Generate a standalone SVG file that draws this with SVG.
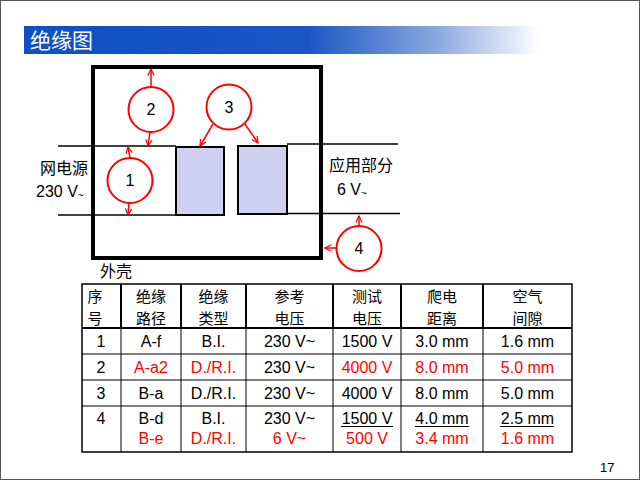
<svg xmlns="http://www.w3.org/2000/svg" width="640" height="480" viewBox="0 0 640 480">
<defs>
<linearGradient id="tg" x1="0" y1="0" x2="1" y2="0">
<stop offset="0" stop-color="#0e4fc3"/>
<stop offset="0.55" stop-color="#1a56c6"/>
<stop offset="0.8" stop-color="#8aa8e0"/>
<stop offset="1" stop-color="#ffffff"/>
</linearGradient>
<marker id="ah" viewBox="0 0 10 10" refX="9" refY="5" markerWidth="8" markerHeight="8" orient="auto" markerUnits="userSpaceOnUse">
<path d="M1,1 L9,5 L1,9" fill="none" stroke="#ff0000" stroke-width="1.5"/>
</marker>
<style>
.t{font-family:"Liberation Sans","Noto Sans CJK SC",sans-serif;font-size:16px;fill:#000;text-anchor:middle}
.c{font-family:"Noto Sans CJK SC","Liberation Sans",sans-serif;font-size:16px;fill:#000}
.h{font-family:"Noto Sans CJK SC","Liberation Sans",sans-serif;font-size:15px;fill:#000;text-anchor:middle}
.r{fill:#ff0000}
.lab{font-family:"Liberation Sans","Noto Sans CJK SC",sans-serif;font-size:16px;fill:#000}
.circ{fill:#fff;stroke:#ff0000;stroke-width:2}
.arr{stroke:#ff0000;stroke-width:1.5;fill:none;marker-end:url(#ah)}
.ln{stroke:#000;stroke-width:1.3}
.blk{fill:#d0d0f2;stroke:#000;stroke-width:2}
.grid{stroke:#000;stroke-width:1}
.gridb{stroke:#000;stroke-width:2}
.ul{stroke:#000;stroke-width:1}
</style>
</defs>
<rect x="0" y="0" width="640" height="480" fill="#fff"/>
<rect x="0.5" y="0.5" width="639" height="479" fill="none" stroke="#555" stroke-width="1"/>

<g id="title">
<rect x="24" y="26" width="516" height="28" fill="url(#tg)"/>
<rect x="24" y="52" width="516" height="2" fill="url(#tg)" opacity="0.6"/>
<text x="30" y="48" font-family="Noto Sans CJK SC,sans-serif" font-size="21" fill="#fff">绝缘图</text>
</g>

<g id="lines">
<line class="ln" x1="58" y1="146" x2="176" y2="146"/>
<line class="ln" x1="58" y1="215" x2="176" y2="215"/>
<line class="ln" x1="287" y1="144" x2="398" y2="144"/>
<line class="ln" x1="287" y1="213.5" x2="400" y2="213.5"/>
</g>

<g id="enclosure">
<rect x="93" y="67" width="228" height="191" fill="none" stroke="#000" stroke-width="4"/>
</g>
<g id="block1"><rect class="blk" x="176" y="147" width="48" height="68"/></g>
<g id="block2"><rect class="blk" x="238" y="146" width="49" height="68"/></g>

<g id="labels">
<text class="c" x="40" y="174" font-size="15">网电源</text>
<text class="lab" x="36" y="197">230 V<tspan font-size="10" dy="2">~</tspan></text>
<text class="c" x="329" y="171" font-size="15">应用部分</text>
<text class="lab" x="337" y="195">6 V<tspan font-size="10" dy="2">~</tspan></text>
<text class="c" x="100" y="277" font-size="15">外壳</text>
</g>

<g id="connectors">
<line class="arr" x1="151" y1="87" x2="151" y2="69"/>
<line class="arr" x1="150" y1="132" x2="148" y2="146"/>
<line class="arr" x1="130" y1="158" x2="128" y2="147"/>
<line class="arr" x1="129" y1="203" x2="128" y2="215"/>
<line class="arr" x1="213" y1="124" x2="200" y2="146"/>
<line class="arr" x1="245" y1="124" x2="258" y2="143"/>
<line class="arr" x1="337" y1="248" x2="325" y2="248"/>
<line class="arr" x1="359" y1="226" x2="359" y2="216"/>
</g>

<g id="c2"><circle class="circ" cx="151" cy="109.5" r="22.5"/><text class="t" x="151" y="115">2</text></g>
<g id="c3"><circle class="circ" cx="229" cy="107" r="22.5"/><text class="t" x="229" y="112.5">3</text></g>
<g id="c1"><circle class="circ" cx="130" cy="180.5" r="22.5"/><text class="t" x="130" y="186">1</text></g>
<g id="c4"><circle class="circ" cx="359" cy="248.5" r="22.5"/><text class="t" x="359" y="254">4</text></g>

<g id="table">
<rect x="82" y="284" width="490" height="168" fill="none" stroke="#000" stroke-width="1.5"/>
<line class="gridb" x1="82" y1="328" x2="572" y2="328"/>
<line class="grid" x1="82" y1="354" x2="572" y2="354"/>
<line class="grid" x1="82" y1="380" x2="572" y2="380"/>
<line class="grid" x1="82" y1="406" x2="572" y2="406"/>
<line class="gridb" x1="121" y1="284" x2="121" y2="328"/>
<line class="gridb" x1="181" y1="284" x2="181" y2="328"/>
<line class="gridb" x1="246" y1="284" x2="246" y2="328"/>
<line class="gridb" x1="333" y1="284" x2="333" y2="328"/>
<line class="gridb" x1="401" y1="284" x2="401" y2="328"/>
<line class="gridb" x1="483" y1="284" x2="483" y2="328"/>
<line class="grid" x1="121" y1="328" x2="121" y2="452"/>
<line class="grid" x1="181" y1="328" x2="181" y2="452"/>
<line class="grid" x1="246" y1="328" x2="246" y2="452"/>
<line class="grid" x1="333" y1="328" x2="333" y2="452"/>
<line class="grid" x1="401" y1="328" x2="401" y2="452"/>
<line class="grid" x1="483" y1="328" x2="483" y2="452"/>

<text class="h" x="95" y="302">序</text><text class="h" x="95" y="324">号</text>
<text class="h" x="151" y="302">绝缘</text><text class="h" x="151" y="324">路径</text>
<text class="h" x="213.5" y="302">绝缘</text><text class="h" x="213.5" y="324">类型</text>
<text class="h" x="289.5" y="302">参考</text><text class="h" x="289.5" y="324">电压</text>
<text class="h" x="367" y="302">测试</text><text class="h" x="367" y="324">电压</text>
<text class="h" x="442" y="302">爬电</text><text class="h" x="442" y="324">距离</text>
<text class="h" x="527.5" y="302">空气</text><text class="h" x="527.5" y="324">间隙</text>

<text class="t" x="101" y="347">1</text>
<text class="t" x="151" y="347">A-f</text>
<text class="t" x="213.5" y="347">B.I.</text>
<text class="t" x="289.5" y="347">230 V~</text>
<text class="t" x="367" y="347">1500 V</text>
<text class="t" x="442" y="347">3.0 mm</text>
<text class="t" x="527.5" y="347">1.6 mm</text>

<text class="t" x="101" y="373">2</text>
<text class="t r" x="151" y="373">A-a2</text>
<text class="t r" x="213.5" y="373">D./R.I.</text>
<text class="t" x="289.5" y="373">230 V~</text>
<text class="t r" x="367" y="373">4000 V</text>
<text class="t r" x="442" y="373">8.0 mm</text>
<text class="t r" x="527.5" y="373">5.0 mm</text>

<text class="t" x="101" y="399">3</text>
<text class="t" x="151" y="399">B-a</text>
<text class="t" x="213.5" y="399">D./R.I.</text>
<text class="t" x="289.5" y="399">230 V~</text>
<text class="t" x="367" y="399">4000 V</text>
<text class="t" x="442" y="399">8.0 mm</text>
<text class="t" x="527.5" y="399">5.0 mm</text>

<text class="t" x="101" y="424">4</text>
<text class="t" x="151" y="424">B-d</text>
<text class="t" x="213.5" y="424">B.I.</text>
<text class="t" x="289.5" y="424">230 V~</text>
<text class="t" x="367" y="424">1500 V</text>
<text class="t" x="442" y="424">4.0 mm</text>
<text class="t" x="527.5" y="424">2.5 mm</text>
<line class="ul" x1="341" y1="426.5" x2="393" y2="426.5"/>
<line class="ul" x1="415" y1="426.5" x2="469" y2="426.5"/>
<line class="ul" x1="500" y1="426.5" x2="554" y2="426.5"/>

<text class="t r" x="151" y="444">B-e</text>
<text class="t r" x="213.5" y="444">D./R.I.</text>
<text class="t r" x="289.5" y="444">6 V~</text>
<text class="t r" x="367" y="444">500 V</text>
<text class="t r" x="442" y="444">3.4 mm</text>
<text class="t r" x="527.5" y="444">1.6 mm</text>
</g>

<text x="600" y="472" font-family="Liberation Sans,sans-serif" font-size="13" fill="#000">17</text>
</svg>
